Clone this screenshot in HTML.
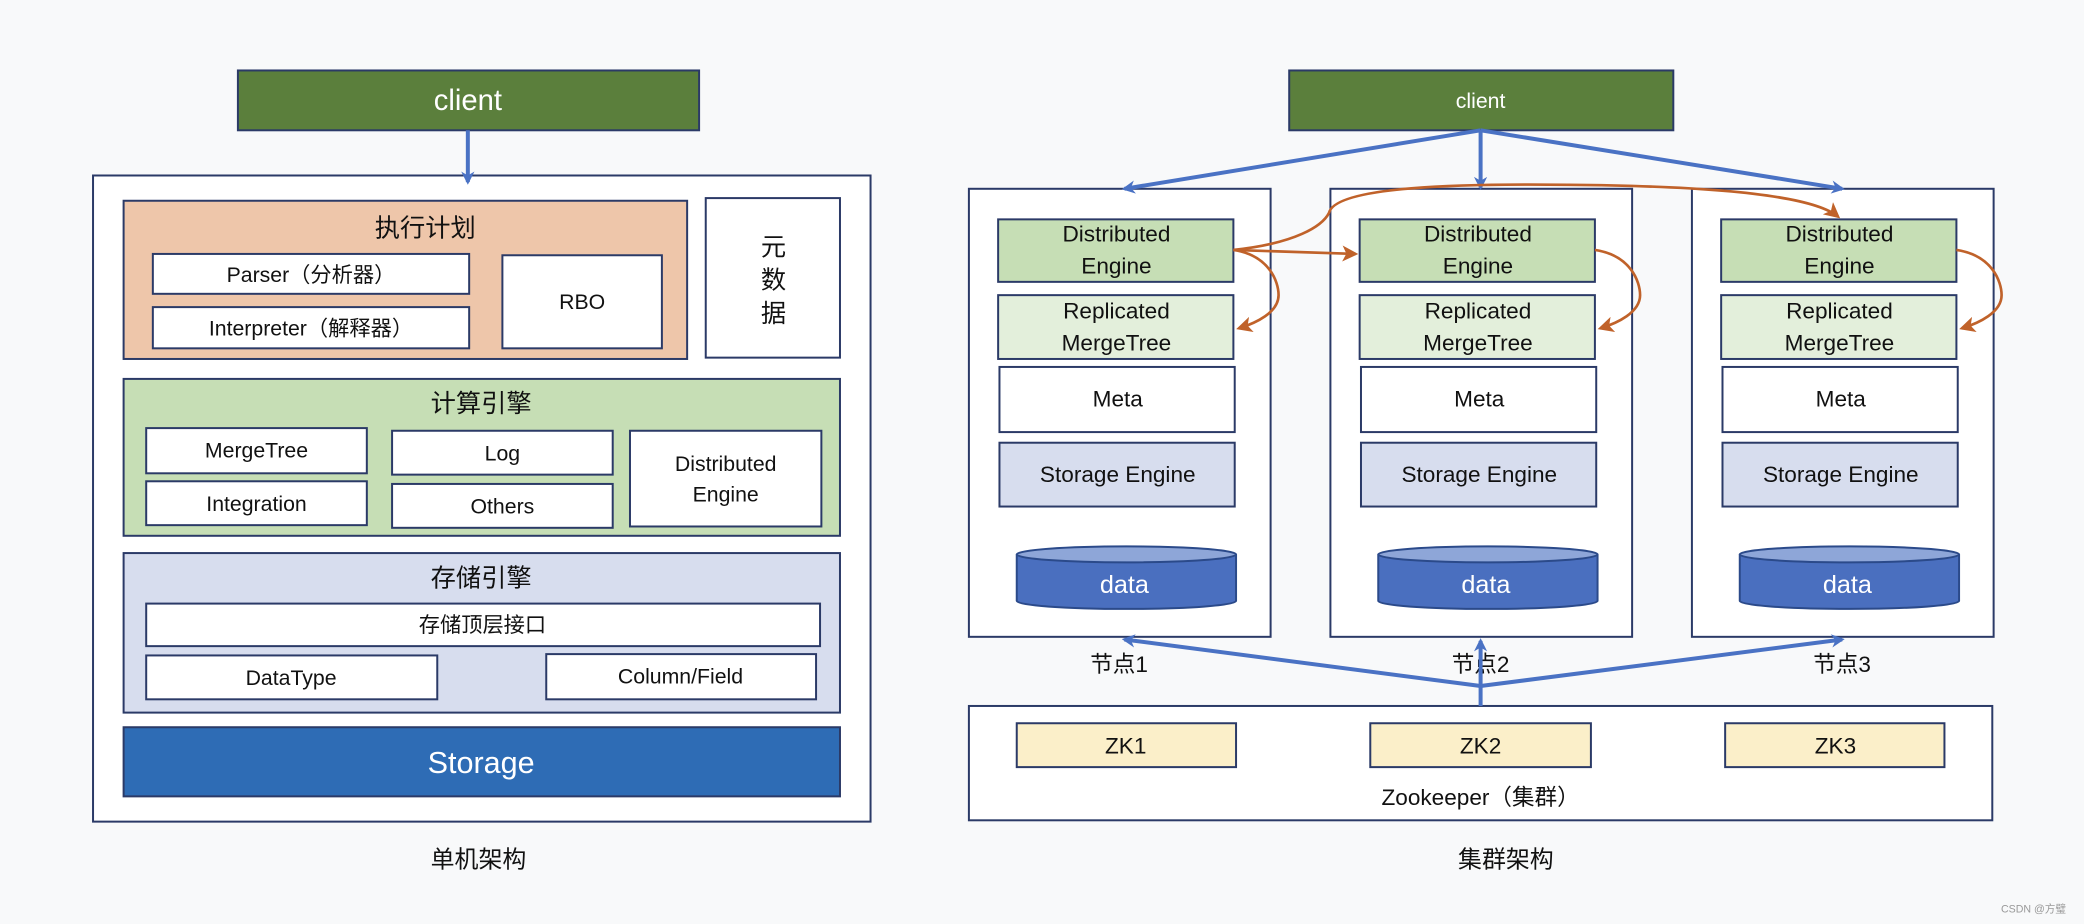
<!DOCTYPE html>
<html><head><meta charset="utf-8"><style>
html,body{margin:0;padding:0;background:#f8f9fa;}
svg{display:block}
text{font-family:"Liberation Sans","Noto Sans CJK SC",sans-serif;fill:#111;text-anchor:middle;dominant-baseline:central}
</style></head><body>
<svg width="2084" height="924" viewBox="0 0 1568 695" preserveAspectRatio="none" xmlns="http://www.w3.org/2000/svg">
<defs>
<marker id="ab" markerWidth="10" markerHeight="10" refX="8" refY="5" orient="auto" markerUnits="userSpaceOnUse"><path d="M0,0 L10,5 L0,10 L3,5 z" fill="#4a72c4"/></marker>
<marker id="ao" markerWidth="12" markerHeight="12" refX="10" refY="6" orient="auto" markerUnits="userSpaceOnUse"><path d="M0,0 L12,6 L0,12 L3,6 z" fill="#c0622a"/></marker>
</defs>
<rect width="1568" height="695" fill="#f8f9fa"/>
<g stroke="#2b3a67" stroke-width="1.5">
<!-- LEFT -->
<rect x="179" y="53" width="347" height="45" fill="#5b7f3c"/>
<rect x="70" y="132" width="585" height="486" fill="#fff"/>
<rect x="93" y="151" width="424" height="119" fill="#eec6aa"/>
<rect x="115" y="191" width="238" height="30" fill="#fff"/>
<rect x="115" y="231" width="238" height="31" fill="#fff"/>
<rect x="378" y="192" width="120" height="70" fill="#fff"/>
<rect x="531" y="149" width="101" height="120" fill="#fff"/>
<rect x="93" y="285" width="539" height="118" fill="#c6deb5"/>
<rect x="110" y="322" width="166" height="34" fill="#fff"/>
<rect x="110" y="362" width="166" height="33" fill="#fff"/>
<rect x="295" y="324" width="166" height="33" fill="#fff"/>
<rect x="295" y="364" width="166" height="33" fill="#fff"/>
<rect x="474" y="324" width="144" height="72" fill="#fff"/>
<rect x="93" y="416" width="539" height="120" fill="#d7ddee"/>
<rect x="110" y="454" width="507" height="32" fill="#fff"/>
<rect x="110" y="493" width="219" height="33" fill="#fff"/>
<rect x="411" y="492" width="203" height="34" fill="#fff"/>
<rect x="93" y="547" width="539" height="52" fill="#2e6cb5"/>
<!-- RIGHT -->
<rect x="970" y="53" width="289" height="45" fill="#5b7f3c"/>
<rect x="729" y="531" width="770" height="86" fill="#fff"/>
<rect x="765" y="544" width="165" height="33" fill="#fbefc9"/>
<rect x="1031" y="544" width="166" height="33" fill="#fbefc9"/>
<rect x="1298" y="544" width="165" height="33" fill="#fbefc9"/>
</g>
<g id="n1" stroke="#2b3a67" stroke-width="1.5">
<rect x="729" y="142" width="227" height="337" fill="#fff"/>
<rect x="751" y="165" width="177" height="47" fill="#c6deb5"/>
<rect x="751" y="222" width="177" height="48" fill="#e3efdb"/>
<rect x="752" y="276" width="177" height="49" fill="#fff"/>
<rect x="752" y="333" width="177" height="48" fill="#d7ddee"/>
<path d="M765,417 L765,452 A82.5,6 0 0 0 930,452 L930,417" fill="#4a6fbf" stroke="#2b4a8a"/>
<ellipse cx="847.5" cy="417" rx="82.5" ry="6" fill="#8ea6d8" stroke="#2b4a8a"/>
</g>
<use href="#n1" x="272"/>
<use href="#n1" x="544"/>
<g font-size="16">
<text x="352" y="76" font-size="22" style="fill:#fff">client</text>
<text x="320" y="172" font-size="19">执行计划</text>
<text x="234" y="207">Parser（分析器）</text>
<text x="234" y="247">Interpreter（解释器）</text>
<text x="438" y="227">RBO</text>
<text x="582" y="186" font-size="19">元</text>
<text x="582" y="211" font-size="19">数</text>
<text x="582" y="236" font-size="19">据</text>
<text x="362" y="304" font-size="19">计算引擎</text>
<text x="193" y="339">MergeTree</text>
<text x="193" y="379">Integration</text>
<text x="378" y="341">Log</text>
<text x="378" y="381">Others</text>
<text x="546" y="349">Distributed</text>
<text x="546" y="372">Engine</text>
<text x="362" y="435" font-size="19">存储引擎</text>
<text x="363" y="470">存储顶层接口</text>
<text x="219" y="510">DataType</text>
<text x="512" y="509">Column/Field</text>
<text x="362" y="574" font-size="23" style="fill:#fff">Storage</text>
<text x="360" y="647" font-size="18">单机架构</text>
<text x="1114" y="76" style="fill:#fff">client</text>
<text x="847" y="561" font-size="17">ZK1</text>
<text x="1114" y="561" font-size="17">ZK2</text>
<text x="1381" y="561" font-size="17">ZK3</text>
<text x="1114" y="600" font-size="17">Zookeeper（集群）</text>
<text x="1133" y="647" font-size="18">集群架构</text>
</g>
<g font-size="17">
<text x="840" y="176">Distributed</text><text x="840" y="200">Engine</text>
<text x="840" y="234">Replicated</text><text x="840" y="258">MergeTree</text>
<text x="841" y="300">Meta</text><text x="841" y="357">Storage Engine</text>
<text x="846" y="440" font-size="19" style="fill:#fff">data</text>
<text x="842" y="500">节点1</text>
<text x="1112" y="176">Distributed</text><text x="1112" y="200">Engine</text>
<text x="1112" y="234">Replicated</text><text x="1112" y="258">MergeTree</text>
<text x="1113" y="300">Meta</text><text x="1113" y="357">Storage Engine</text>
<text x="1118" y="440" font-size="19" style="fill:#fff">data</text>
<text x="1114" y="500">节点2</text>
<text x="1384" y="176">Distributed</text><text x="1384" y="200">Engine</text>
<text x="1384" y="234">Replicated</text><text x="1384" y="258">MergeTree</text>
<text x="1385" y="300">Meta</text><text x="1385" y="357">Storage Engine</text>
<text x="1390" y="440" font-size="19" style="fill:#fff">data</text>
<text x="1386" y="500">节点3</text>
</g>
<g stroke="#4a72c4" stroke-width="3" fill="none">
<line x1="352" y1="98" x2="352" y2="137" marker-end="url(#ab)"/>
<line x1="1114" y1="98" x2="846" y2="142" marker-end="url(#ab)"/>
<line x1="1114" y1="98" x2="1114" y2="141" marker-end="url(#ab)"/>
<line x1="1114" y1="98" x2="1386" y2="142" marker-end="url(#ab)"/>
<line x1="1114" y1="531" x2="1114" y2="482" marker-end="url(#ab)"/>
<line x1="1114" y1="516" x2="846" y2="481" marker-end="url(#ab)"/>
<line x1="1114" y1="516" x2="1386" y2="481" marker-end="url(#ab)"/>
</g>
<g stroke="#c0622a" stroke-width="2" fill="none">
<path d="M928,188 L1020,191" marker-end="url(#ao)"/>
<path d="M928,188 C975,183 995,170 1000,160 C1005,140 1100,138 1180,139 C1300,140 1365,148 1383,163" marker-end="url(#ao)"/>
<path d="M928,188 C955,192 962,212 962,222 C962,235 945,243 932,247" marker-end="url(#ao)"/>
<path d="M1200,188 C1227,192 1234,212 1234,222 C1234,235 1217,243 1204,247" marker-end="url(#ao)"/>
<path d="M1472,188 C1499,192 1506,212 1506,222 C1506,235 1489,243 1476,247" marker-end="url(#ao)"/>
</g>
<text x="1530" y="684" font-size="8" style="fill:#999">CSDN @方璧</text>
</svg>
</body></html>
